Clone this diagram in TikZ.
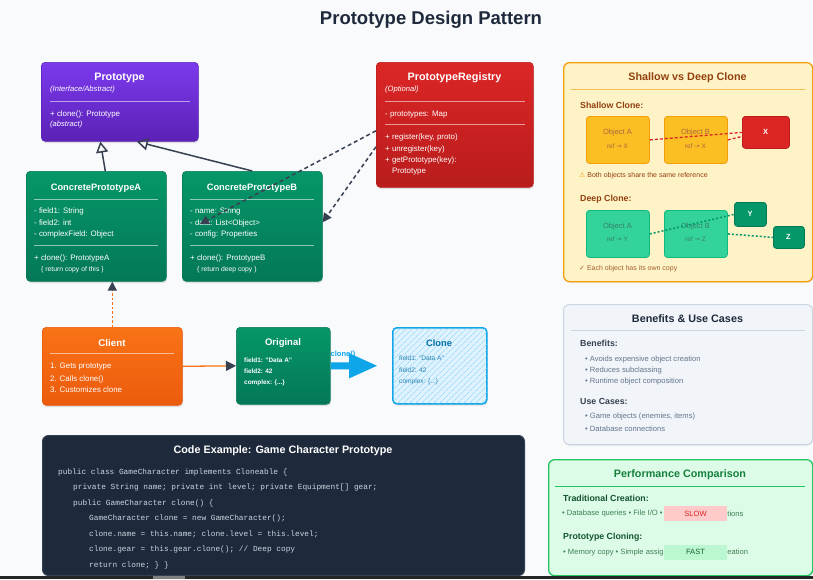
\documentclass[tikz,border=0pt]{standalone}
\usepackage{fontspec}
\setmainfont{Liberation Sans}
\setmonofont{Liberation Mono}
\newfontfamily\symfont{DejaVu Sans}
\usetikzlibrary{arrows.meta,shadows,patterns.meta,positioning}
\definecolor{pagebg}{HTML}{F8FAFC}
\definecolor{ink}{HTML}{1E293B}
\definecolor{arrowgray}{HTML}{374151}
\definecolor{purpletop}{HTML}{7C3AED}
\definecolor{purplebot}{HTML}{5B21B6}
\definecolor{redtop}{HTML}{DC2626}
\definecolor{redbot}{HTML}{B91C1C}
\definecolor{greentop}{HTML}{059669}
\definecolor{greenbot}{HTML}{047857}
\definecolor{orangetop}{HTML}{F97316}
\definecolor{orangebot}{HTML}{EA580C}
\definecolor{skyblue}{HTML}{0EA5E9}
\definecolor{skylight}{HTML}{E0F2FE}
\definecolor{skyhatch}{HTML}{7DD3FC}
\definecolor{skytext}{HTML}{0284C7}
\definecolor{amberbg}{HTML}{FEF3C7}
\definecolor{amberline}{HTML}{F59E0B}
\definecolor{amberbox}{HTML}{FBBF24}
\definecolor{claybrown}{HTML}{92400E}
\definecolor{emerald}{HTML}{34D399}
\definecolor{emeraldline}{HTML}{10B981}
\definecolor{deepgreen}{HTML}{065F46}
\definecolor{slatebg}{HTML}{F1F5F9}
\definecolor{slateline}{HTML}{CBD5E1}
\definecolor{slatetext}{HTML}{64748B}
\definecolor{slatehead}{HTML}{374151}
\definecolor{codebg}{HTML}{1E293B}
\definecolor{codeline}{HTML}{334155}
\definecolor{codetext}{HTML}{CBD5E1}
\definecolor{perfbg}{HTML}{DCFCE7}
\definecolor{perfline}{HTML}{22C55E}
\definecolor{perftitle}{HTML}{15803D}
\definecolor{perfhead}{HTML}{14532D}
\definecolor{perftext}{HTML}{3F7F55}
\definecolor{slowbg}{HTML}{FECACA}
\definecolor{fastbg}{HTML}{BBF7D0}
\definecolor{fasttext}{HTML}{166534}

\begin{document}
\begin{tikzpicture}[x=1pt,y=-1pt,
  umlbox/.style={rounded corners=4pt, anchor=north west, inner sep=0pt, line width=0.6pt,
    drop shadow={opacity=0.22, shadow xshift=0.8pt, shadow yshift=-1.8pt}},
  panel/.style={rounded corners=6pt, anchor=north west, inner sep=0pt, line width=1.3pt,
    drop shadow={opacity=0.12, shadow xshift=0.6pt, shadow yshift=-1.5pt}},
  objbox/.style={rounded corners=3pt, anchor=north west, inner sep=0pt, line width=0.8pt},
  classname/.style={inner sep=0pt, text=white, font=\bfseries\fontsize{9.3}{11}\selectfont},
  member/.style={anchor=west, inner sep=0pt, text=white, font=\fontsize{7.9}{9}\selectfont},
  remark/.style={anchor=west, inner sep=0pt, text=white, font=\itshape\fontsize{7.6}{8}\selectfont},
  smallnote/.style={anchor=west, inner sep=0pt, text=white, font=\fontsize{6.8}{8}\selectfont},
  divider/.style={white, opacity=0.55, line width=0.8pt},
  ptitle/.style={inner sep=0pt, font=\bfseries\fontsize{10.8}{12}\selectfont},
  phead/.style={anchor=west, inner sep=0pt, font=\bfseries\fontsize{8.8}{10}\selectfont},
  pitem/.style={anchor=west, inner sep=0pt, font=\fontsize{7.6}{9}\selectfont},
  objtxt/.style={inner sep=0pt, font=\fontsize{7.5}{9}\selectfont},
  reftxt/.style={inner sep=0pt, font=\fontsize{6.5}{8}\selectfont},
  codeln/.style={anchor=west, inner sep=0pt, text=codetext, font=\ttfamily\fontsize{7.8}{9}\selectfont},
  inherit/.style={arrowgray, line width=1.5pt, -{Triangle[open, length=11pt, width=12pt]}},
  uses/.style={arrowgray, line width=1.5pt, dash pattern=on 4pt off 3pt, -{Triangle[length=9pt, width=9pt]}},
  tag/.style={minimum width=63pt, minimum height=15pt, inner sep=0pt, font=\fontsize{7.6}{9}\selectfont}
]
\useasboundingbox (0,0) rectangle (813,579);
\fill[pagebg] (0,0) rectangle (813,579);

\node[inner sep=0pt, text=ink, font=\bfseries\fontsize{18.5}{22}\selectfont] (title) at (431,20) {Prototype Design Pattern};

% class boxes
\node[umlbox, top color=purpletop, bottom color=purplebot, draw=purplebot, minimum width=157pt, minimum height=79pt] (proto) at (41,62) {};
\node[classname, font=\bfseries\fontsize{10.8}{12}\selectfont] (protoName) at (119.5,78) {Prototype};
\node[remark] (protoKind) at (50,90) {(Interface/Abstract)};
\draw[divider] (50,101) -- (190,101);
\node[member] (protoOp) at (50,114) {+ clone(): Prototype};
\node[remark] (protoAbs) at (50,125) {(abstract)};

\node[umlbox, top color=redtop, bottom color=redbot, draw=redbot, minimum width=157pt, minimum height=125pt] (reg) at (376,62) {};
\node[classname, font=\bfseries\fontsize{10.8}{12}\selectfont] (regName) at (454.5,78) {PrototypeRegistry};
\node[remark] (regKind) at (385,90) {(Optional)};
\draw[divider] (385,101) -- (525,101);
\node[member] (regMap) at (385,115) {- prototypes: Map};
\draw[divider] (385,124) -- (525,124);
\node[member] (regAdd) at (385,137) {+ register(key, proto)};
\node[member] (regDel) at (385,149) {+ unregister(key)};
\node[member] (regGet) at (385,160) {+ getPrototype(key):};
\node[member] (regRet) at (392,172) {Prototype};

\node[umlbox, top color=greentop, bottom color=greenbot, draw=greenbot, minimum width=140pt, minimum height=110pt] (cpa) at (26,171) {};
\node[classname] (cpaName) at (96,188) {ConcretePrototypeA};
\draw[divider] (34,199) -- (158,199);
\node[member] (cpaF1) at (34,211) {- field1: String};
\node[member] (cpaF2) at (34,223) {- field2: int};
\node[member] (cpaF3) at (34,234) {- complexField: Object};
\draw[divider] (34,245) -- (158,245);
\node[member] (cpaOp) at (34,258) {+ clone(): PrototypeA};
\node[smallnote] (cpaNote) at (41,270) {\{ return copy of this \}};

\node[umlbox, top color=greentop, bottom color=greenbot, draw=greenbot, minimum width=140pt, minimum height=110pt] (cpb) at (182,171) {};
\node[classname] (cpbName) at (252,188) {ConcretePrototypeB};
\draw[divider] (190,199) -- (314,199);
\node[member] (cpbF1) at (190,211) {- name: String};
\node[member] (cpbF2) at (190,223) {- data: List<Object>};
\node[member] (cpbF3) at (190,234) {- config: Properties};
\draw[divider] (190,245) -- (314,245);
\node[member] (cpbOp) at (190,258) {+ clone(): PrototypeB};
\node[smallnote] (cpbNote) at (197,270) {\{ return deep copy \}};

% client, original, clone
\node[umlbox, top color=orangetop, bottom color=orangebot!90!orangetop, draw=orangebot, minimum width=140pt, minimum height=78pt] (client) at (42,327) {};
\node[classname, font=\bfseries\fontsize{9.8}{11}\selectfont] (clientName) at (112,343) {Client};
\draw[divider] (50,353) -- (174,353);
\node[member] (clientS1) at (50,367) {1. Gets prototype};
\node[member] (clientS2) at (50,379) {2. Calls clone()};
\node[member] (clientS3) at (50,390) {3. Customizes clone};

\node[umlbox, top color=greentop, bottom color=greenbot, draw=greenbot, minimum width=94pt, minimum height=77pt] (orig) at (236,327) {};
\node[classname, font=\bfseries\fontsize{9.5}{11}\selectfont] (origName) at (283,343) {Original};
\node[member, font=\bfseries\fontsize{6.4}{8}\selectfont] (origF1) at (244,360) {field1: "Data A"};
\node[member, font=\bfseries\fontsize{6.4}{8}\selectfont] (origF2) at (244,371) {field2: 42};
\node[member, font=\bfseries\fontsize{6.4}{8}\selectfont] (origF3) at (244,383) {complex: \{...\}};

\node[umlbox, fill=skylight, draw=skyblue, line width=1.5pt, minimum width=94pt, minimum height=76pt,
  postaction={pattern color=skyhatch, pattern={Lines[angle=45, distance=4pt, line width=0.6pt]}}] (clone) at (392,327) {};
\node[classname, text=skytext!85!black] (cloneName) at (439,343) {Clone};
\node[member, text=skytext!70!gray, font=\fontsize{6.6}{8}\selectfont] (cloneF1) at (399,358) {field1: "Data A"};
\node[member, text=skytext!70!gray, font=\fontsize{6.6}{8}\selectfont] (cloneF2) at (399,370) {field2: 42};
\node[member, text=skytext!70!gray, font=\fontsize{6.6}{8}\selectfont] (cloneF3) at (399,382) {complex: \{...\}};

% shallow vs deep
\node[panel, fill=amberbg, draw=amberline, minimum width=249pt, minimum height=219pt] (shallowDeep) at (563,62) {};
\node[ptitle, text=claybrown] (sdTitle) at (687.5,78) {Shallow vs Deep Clone};
\draw[amberline!70, line width=0.8pt] (571,89) -- (805,89);
\node[phead, text=claybrown] (shHead) at (580,105) {Shallow Clone:};
\node[objbox, fill=amberbox, draw=amberline, minimum width=63pt, minimum height=47pt] (shA) at (586,116) {};
\node[objtxt, text=claybrown!80] (shAName) at (617.5,133) {Object A};
\node[reftxt, text=claybrown!80] (shARef) at (617.5,146) {ref {\symfont →} X};
\node[objbox, fill=amberbox, draw=amberline, minimum width=63pt, minimum height=47pt] (shB) at (664,116) {};
\node[objtxt, text=claybrown!80] (shBName) at (695.5,133) {Object B};
\node[reftxt, text=claybrown!80] (shBRef) at (695.5,146) {ref {\symfont →} X};
\node[objbox, fill=redtop, draw=redbot, minimum width=47pt, minimum height=32pt] (shX) at (742,116) {};
\node[objtxt, text=white, font=\bfseries\fontsize{7.5}{9}\selectfont] (shXName) at (765.5,132) {X};
\draw[redtop, line width=1.3pt, dash pattern=on 3pt off 2pt] (shA.east) -- (shX.west);
\draw[redtop, line width=1.3pt, dash pattern=on 3pt off 2pt] (shB.east) -- ([yshift=-4pt]shX.west);
\node[pitem, text=claybrown, font=\fontsize{7}{9}\selectfont] (shWarn) at (579,176) {{\symfont\color{amberline}⚠}\ Both objects share the same reference};

\node[phead, text=claybrown] (dpHead) at (580,199) {Deep Clone:};
\node[objbox, fill=emerald, draw=emeraldline, minimum width=63pt, minimum height=47pt] (dpA) at (586,210) {};
\node[objtxt, text=deepgreen!80] (dpAName) at (617.5,227) {Object A};
\node[reftxt, text=deepgreen!80] (dpARef) at (617.5,239) {ref {\symfont →} Y};
\node[objbox, fill=emerald, draw=emeraldline, minimum width=63pt, minimum height=47pt] (dpB) at (664,210) {};
\node[objtxt, text=deepgreen!80] (dpBName) at (695.5,227) {Object B};
\node[reftxt, text=deepgreen!80] (dpBRef) at (695.5,239) {ref {\symfont →} Z};
\node[objbox, fill=greentop, draw=greenbot, minimum width=32pt, minimum height=24pt] (dpY) at (734,202) {};
\node[objtxt, text=white, font=\bfseries\fontsize{7.5}{9}\selectfont] (dpYName) at (750,214) {Y};
\node[objbox, fill=greentop, draw=greenbot, minimum width=31pt, minimum height=22pt] (dpZ) at (773,226) {};
\node[objtxt, text=white, font=\bfseries\fontsize{7.5}{9}\selectfont] (dpZName) at (788.5,237) {Z};
\draw[greentop, line width=1.5pt, dash pattern=on 2pt off 2pt] (dpA.east) -- (dpY.west);
\draw[greentop, line width=1.5pt, dash pattern=on 2pt off 2pt] (dpB.east) -- (dpZ.west);
\node[pitem, text=claybrown!85, font=\fontsize{7}{9}\selectfont] (dpOk) at (579,269) {{\symfont ✓} Each object has its own copy};

% benefits
\node[panel, fill=slatebg, draw=slateline, line width=1pt, minimum width=249pt, minimum height=140pt] (benefits) at (563,304) {};
\node[ptitle, text=ink] (benTitle) at (687.5,319) {Benefits \& Use Cases};
\draw[slateline, line width=0.8pt] (571,330) -- (805,330);
\node[phead, text=slatehead] (benHead) at (580,343) {Benefits:};
\node[pitem, text=slatetext] (ben1) at (585,360) {• Avoids expensive object creation};
\node[pitem, text=slatetext] (ben2) at (585,371) {• Reduces subclassing};
\node[pitem, text=slatetext] (ben3) at (585,382) {• Runtime object composition};
\node[phead, text=slatehead] (useHead) at (580,401) {Use Cases:};
\node[pitem, text=slatetext] (use1) at (585,417) {• Game objects (enemies, items)};
\node[pitem, text=slatetext] (use2) at (585,429) {• Database connections};

% code example
\node[panel, fill=codebg, draw=codeline, line width=1pt, minimum width=482pt, minimum height=140pt] (code) at (42,435) {};
\node[ptitle, text=white] (codeTitle) at (283,451) {Code Example: Game Character Prototype};
\node[codeln] (code1) at (58,472) {public class GameCharacter implements Cloneable \{};
\node[codeln] (code2) at (73,487) {private String name; private int level; private Equipment[] gear;};
\node[codeln] (code3) at (73,503) {public GameCharacter clone() \{};
\node[codeln] (code4) at (89,518) {GameCharacter clone = new GameCharacter();};
\node[codeln] (code5) at (89,534) {clone.name = this.name; clone.level = this.level;};
\node[codeln] (code6) at (89,549) {clone.gear = this.gear.clone(); // Deep copy};
\node[codeln] (code7) at (89,565) {return clone; \} \}};

% performance
\node[panel, fill=perfbg, draw=perfline, minimum width=264pt, minimum height=116pt] (perf) at (548,459) {};
\node[ptitle, text=perftitle] (perfTitle) at (680,475) {Performance Comparison};
\draw[perfline, line width=0.8pt] (555,486) -- (805,486);
\node[phead, text=perfhead] (tradHead) at (563,498) {Traditional Creation:};
\node[tag, fill=slowbg, text=redtop] (slow) at (695.5,513.5) {SLOW};
\node[pitem, text=perftext, anchor=east] (tradList) at ([xshift=-1pt]slow.west) {• Database queries • File I/O •};
\node[pitem, text=perftext] (tradTail) at (slow.east) {tions};
\node[phead, text=perfhead] (protHead) at (563,537) {Prototype Cloning:};
\node[tag, fill=fastbg, text=fasttext] (fast) at (695.5,552) {FAST};
\node[pitem, text=perftext] (protList) at (563,553) {• Memory copy • Simple assig};
\node[pitem, text=perftext] (protTail) at (fast.east) {eation};

% connectors
\draw[inherit] ([xshift=9pt]cpa.north) -- ([xshift=-19.5pt]proto.south);
\draw[inherit] (cpb.north) -- ([xshift=17pt]proto.south);
\coordinate (cpbInside) at (200,224);
\draw[uses] ([yshift=-6pt]reg.west) -- (cpbInside);
\draw[uses] ([yshift=-22pt]reg.west) -- ([yshift=4pt]cpb.east);
\draw[orangetop, line width=1.3pt, dash pattern=on 2.5pt off 2pt, -{Triangle[length=9pt, width=9pt, color=arrowgray]}] (client.north) -- (client.north |- cpa.south);
\draw[orangetop, line width=1.3pt, -{Triangle[length=10pt, width=10pt, color=arrowgray]}] (client.east) -- (orig.west);
\draw[skyblue, line width=7pt, -{Triangle[length=29pt, width=23pt]}, shorten >=14pt] (orig.east) -- (clone.west);
\node[inner sep=0pt, text=skyblue, font=\bfseries\fontsize{7.5}{9}\selectfont] (cloneCall) at (343,355) {clone()};

% window scrollbar
\fill[black!85] (0,576) rectangle (813,579);
\fill[gray] (153,576) rectangle (185,579);
\end{tikzpicture}
\end{document}
